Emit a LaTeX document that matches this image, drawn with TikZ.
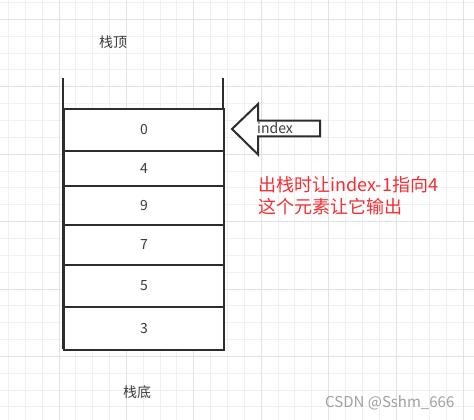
\documentclass[tikz,border=0pt]{standalone}
\usepackage{fontspec}
\setmainfont{Noto Sans CJK SC}
\definecolor{gridminor}{RGB}{240,240,240}
\definecolor{gridmajor}{RGB}{226,226,226}
\definecolor{ink}{RGB}{45,45,45}
\definecolor{txt}{RGB}{60,60,60}
\definecolor{redtxt}{RGB}{245,45,50}
\definecolor{wm}{RGB}{160,160,160}
\tikzset{
  minorline/.style={gridminor, line width=1pt},
  majorline/.style={gridmajor, line width=1pt},
  wall/.style={ink, line width=2pt},
  cell/.style={draw=ink, line width=2pt, fill=white, minimum width=160pt, inner sep=0pt, anchor=north west, text=txt, font=\fontsize{14}{16}\selectfont},
  label/.style={text=txt, font=\fontsize{14}{16}\selectfont, inner sep=0pt},
  redlabel/.style={text=redtxt, font=\fontsize{18}{20}\selectfont, inner sep=0pt, anchor=west},
  blockarrow/.style={draw=ink, line width=2pt, fill=white, line join=miter}
}
\begin{document}
\begin{tikzpicture}[x=1pt,y=-1pt]
\useasboundingbox (0,0) rectangle (474,420);
\fill[white] (0,0) rectangle (474,420);
% grid
\foreach \i in {0,...,27} {\draw[minorline] ({8.45+16.85*\i},0) -- ({8.45+16.85*\i},420);}
\foreach \i in {0,...,24} {\draw[minorline] (0,{2.55+16.85*\i}) -- (474,{2.55+16.85*\i});}
\foreach \i in {0,...,6} {\draw[majorline] ({59+67.4*\i},0) -- ({59+67.4*\i},420);}
\foreach \i in {0,...,5} {\draw[majorline] (0,{19.6+67.4*\i}) -- (474,{19.6+67.4*\i});}
% walls
\coordinate (lt) at (63,78);
\coordinate (lb) at (63,349);
\coordinate (rt) at (223,78);
\coordinate (rb) at (223,349);
\draw[wall] (lt) -- (lb);
\draw[wall] (rt) -- (rb);
% cells
\node[cell, minimum height=42.5pt] (c0) at (63,107.5) {0};
\node[cell, minimum height=35pt] (c1) at (63,150) {4};
\node[cell, minimum height=39pt] (c2) at (63,185) {9};
\node[cell, minimum height=40pt] (c3) at (63,224) {7};
\node[cell, minimum height=42pt] (c4) at (63,264) {5};
\node[cell, minimum height=43pt] (c5) at (63,306) {3};
% labels
\node[label] (top) at (113,42) {栈顶};
\node[label] (bottom) at (137,392) {栈底};
% block arrow
\draw[blockarrow] (232,129) -- (258,104) -- (258,120.7) -- (320,120.7) -- (320,136.3) -- (258,136.3) -- (258,154.5) -- cycle;
\node[label, anchor=west] (idx) at (257,128) {index};
% red text
\node[redlabel] (r1) at (258,184.5) {出栈时让index-1指向4};
\node[redlabel] (r2) at (258,206.5) {这个元素让它输出};
% watermark
\node[text=wm, font=\fontsize{15}{17}\selectfont, inner sep=0pt, anchor=west] (wmk) at (325,403) {CSDN @Sshm\_666};
\end{tikzpicture}
\end{document}
